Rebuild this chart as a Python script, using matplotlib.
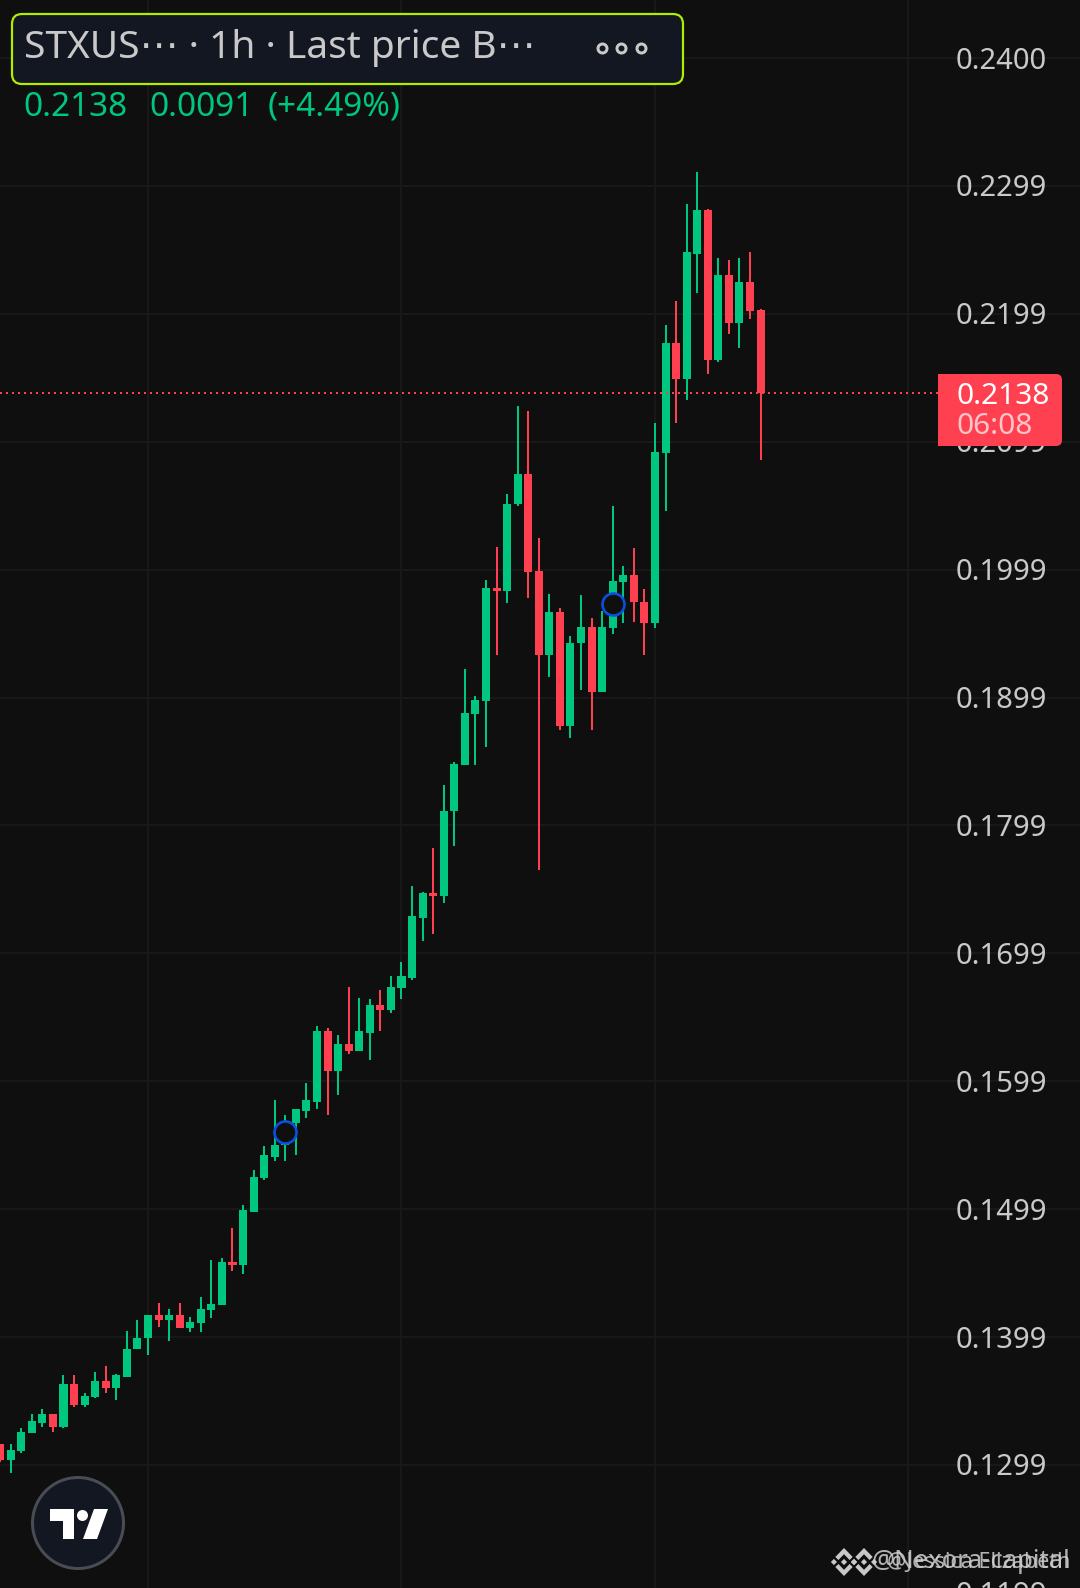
import matplotlib
matplotlib.use('Agg')
import matplotlib.pyplot as plt
from matplotlib.patches import Circle, FancyBboxPatch, PathPatch, Polygon
from matplotlib.path import Path

# STX 1h candles
opens = [.1316, .1304, .1311, .1325, .1333, .1340, .1330, .1363, .1347, .1353, .1366, .1360,
         .1369, .1391, .1399, .1417, .1413, .1417, .1407, .1411, .1421, .1425, .1459, .1456,
         .1498, .1524, .1541, .1550, .1567, .1577, .1584, .1639, .1608, .1629, .1624, .1638,
         .1660, .1656, .1673, .1681, .1728, .1747, .1745, .1811, .1847, .1887, .1897, .1986,
         .1983, .2051, .2075, .1999, .1933, .1967, .1878, .1943, .1955, .1904, .1954, .1990,
         .1996, .1975, .1958, .2091, .2177, .2149, .2247, .2281, .2164, .2230, .2193, .2225, .2203]
closes = [.1304, .1312, .1326, .1334, .1340, .1330, .1363, .1347, .1354, .1366, .1360, .1370,
          .1391, .1399, .1417, .1413, .1417, .1407, .1412, .1422, .1426, .1459, .1456, .1499,
          .1525, .1542, .1550, .1565, .1578, .1585, .1639, .1608, .1629, .1624, .1639, .1660,
          .1656, .1674, .1682, .1729, .1747, .1745, .1811, .1848, .1888, .1898, .1986, .1983,
          .2051, .2075, .1998, .1933, .1967, .1878, .1943, .1955, .1904, .1955, .1991, .1996,
          .1975, .1958, .2092, .2177, .2149, .2248, .2281, .2164, .2230, .2193, .2225, .2202, .2138]
highs = [.1316, .1316, .1329, .1340, .1344, .1340, .1370, .1370, .1356, .1373, .1377, .1371,
         .1405, .1413, .1417, .1427, .1422, .1427, .1416, .1431, .1460, .1462, .1485, .1503,
         .1531, .1549, .1585, .1574, .1578, .1599, .1643, .1642, .1636, .1674, .1665, .1664,
         .1671, .1682, .1693, .1753, .1748, .1782, .1832, .1850, .1922, .1901, .1992, .2018,
         .2059, .2128, .2124, .2025, .1981, .1970, .1948, .1980, .1962, .1968, .2050, .2003,
         .2017, .1985, .2115, .2191, .2210, .2286, .2311, .2282, .2244, .2242, .2244, .2248, .2204]
lows = [.1302, .1294, .1309, .1325, .1330, .1326, .1329, .1345, .1345, .1352, .1356, .1351,
        .1369, .1391, .1386, .1408, .1397, .1407, .1404, .1404, .1415, .1425, .1452, .1449,
        .1498, .1523, .1538, .1538, .1542, .1571, .1578, .1574, .1589, .1621, .1624, .1617,
        .1639, .1653, .1664, .1679, .1710, .1715, .1739, .1784, .1847, .1847, .1861, .1933,
        .1974, .2050, .1978, .1765, .1916, .1875, .1868, .1906, .1875, .1904, .1950, .1958,
        .1959, .1933, .1954, .2046, .2115, .2133, .2216, .2153, .2162, .2184, .2173, .2196, .2086]

# the axis labels sit a hair under the round prices
tick_values = [.24, .23, .22, .21, .20, .19, .18, .17, .16, .15, .14, .13, .12]
tick_labels = ['0.2400', '0.2299', '0.2199', '0.2099', '0.1999', '0.1899', '0.1799',
               '0.1699', '0.1599', '0.1499', '0.1399', '0.1299', '0.1199']
grid_candles = [14, 38, 62, 86]
signal_candles = [27, 58]
signal_prices = [.1560, .1973]
last_price = .2138

BG = '#0f0f0f'
GRID = '#181818'
GREEN = '#00c77f'
RED = '#ff4050'
GREY = '#c9c9c9'
PX = 0.72  # points per pixel at dpi 100

plt.rcParams['font.family'] = ['Noto Sans', 'DejaVu Sans']

fig = plt.figure(figsize=(10.8, 15.88), dpi=100, facecolor=BG)
ax = fig.add_axes([0, 0, 1, 1], facecolor=BG)
ax.set_xlim(-0.012, 102.24)
ax.set_ylim(.12038, .24454)
ax.axis('off')

# grid
for p in tick_values:
    ax.axhline(p, color=GRID, lw=2 * PX, zorder=1)
for c in grid_candles:
    ax.axvline(c, color=GRID, lw=2 * PX, zorder=1)

# price scale labels
for p, lab in zip(tick_values, tick_labels):
    ax.annotate(lab, (956 / 1080, p), xycoords=ax.get_yaxis_transform(), xytext=(0, -3 * PX),
                textcoords='offset points', color=GREY, fontsize=21, va='center', ha='left',
                annotation_clip=False, zorder=2)

# candles
x = list(range(len(opens)))
colors = [GREEN if c >= o else RED for o, c in zip(opens, closes)]
ax.vlines(x, lows, highs, colors=colors, lw=2 * PX, zorder=3)
ax.bar(x, [abs(c - o) for o, c in zip(opens, closes)], bottom=[min(o, c) for o, c in zip(opens, closes)],
       width=0.76, color=colors, linewidth=0, zorder=3)

# dotted last price line
ax.plot([-0.012, 88.8], [last_price, last_price], color=RED, lw=2 * PX,
        linestyle=(0, (1, 2)), dash_capstyle='butt', zorder=4)

# blue signal circles
ax.plot(signal_candles, signal_prices, 'o', ms=22 * PX, mfc=BG, mec='#0a50e0', mew=2.6 * PX, zorder=5)

# overlay in screen pixels for the app furniture
over = fig.add_axes([0, 0, 1, 1], facecolor='none')
over.set_xlim(0, 1080)
over.set_ylim(1588, 0)
over.axis('off')

# header box
over.add_patch(FancyBboxPatch((12, 14), 671, 70, boxstyle='round,pad=0,rounding_size=10',
                              fc='#131722', ec='#b0ee00', lw=2.2 * PX))
over.text(24, 48, 'STXUS\u22ef \u00b7 1h \u00b7 Last price B\u22ef', color=GREY, fontsize=28,
          va='center', ha='left')
over.plot([602, 621, 641], [48, 48, 48], 'o', ms=9 * PX, mfc='#131722', mec=GREY, mew=3 * PX)
over.text(23, 107, '0.2138', color=GREEN, fontsize=24, va='center')
over.text(149, 107, '0.0091', color=GREEN, fontsize=24, va='center')
over.text(268, 107, '(+4.49%)', color=GREEN, fontsize=24, va='center')

# last price tag, right corners rounded only
verts = [(938, 374), (1056, 374), (1062, 374), (1062, 380), (1062, 440), (1062, 446), (1056, 446),
         (938, 446), (938, 374)]
codes = [Path.MOVETO, Path.LINETO, Path.CURVE3, Path.CURVE3, Path.LINETO, Path.CURVE3, Path.CURVE3,
         Path.LINETO, Path.CLOSEPOLY]
over.add_patch(PathPatch(Path(verts, codes), fc=RED, ec='none', zorder=6))
over.text(957, 396, '0.2138', color='white', fontsize=21.5, va='center', zorder=7)
over.text(957, 427, '06:08', color='#ffc4ca', fontsize=21.5, va='center', zorder=7)

# TradingView badge
over.add_patch(Circle((78, 1523), 45.5, fc='#131722', ec='#4a4c54', lw=3 * PX))
over.add_patch(Polygon([(50, 1509), (74, 1509), (74, 1539), (63, 1539), (63, 1521), (50, 1521)], fc='white', ec='none'))
over.add_patch(Circle((82.5, 1515.5), 5.5, fc='white', ec='none'))
over.add_patch(Polygon([(94, 1509), (108, 1509), (97, 1539), (83, 1539)], fc='white', ec='none'))


# Binance mark of the watermark, drawn twice a bit apart
def binance(cx, cy, s):
    col = '#c8c8c8'
    d = s * 0.22
    centres = [(0, 0), (-s * 0.72, 0), (s * 0.72, 0)]
    for ox, oy in centres:
        over.add_patch(Polygon([(cx + ox - d, cy + oy), (cx + ox, cy + oy - d), (cx + ox + d, cy + oy),
                                (cx + ox, cy + oy + d)], fc=col, ec='none'))
    for sign in (-1, 1):
        over.add_patch(Polygon([(cx - s * 0.62, cy + sign * s * 0.36), (cx, cy + sign * s),
                                (cx + s * 0.62, cy + sign * s * 0.36), (cx + s * 0.40, cy + sign * s * 0.14),
                                (cx, cy + sign * s * 0.56), (cx - s * 0.40, cy + sign * s * 0.14)],
                               fc=col, ec='none'))


binance(844, 1562, 14)
binance(864, 1562, 14)
over.text(1070, 1562, '@Jessica Elizabeth', color='#d0d0d0', fontsize=15.5, va='center', ha='right', alpha=0.85)
over.text(1070, 1562, '@Nexora-capital', color='#d0d0d0', fontsize=18.5, va='center', ha='right', alpha=0.85)

fig.savefig('out.png', dpi=100, facecolor=BG)
